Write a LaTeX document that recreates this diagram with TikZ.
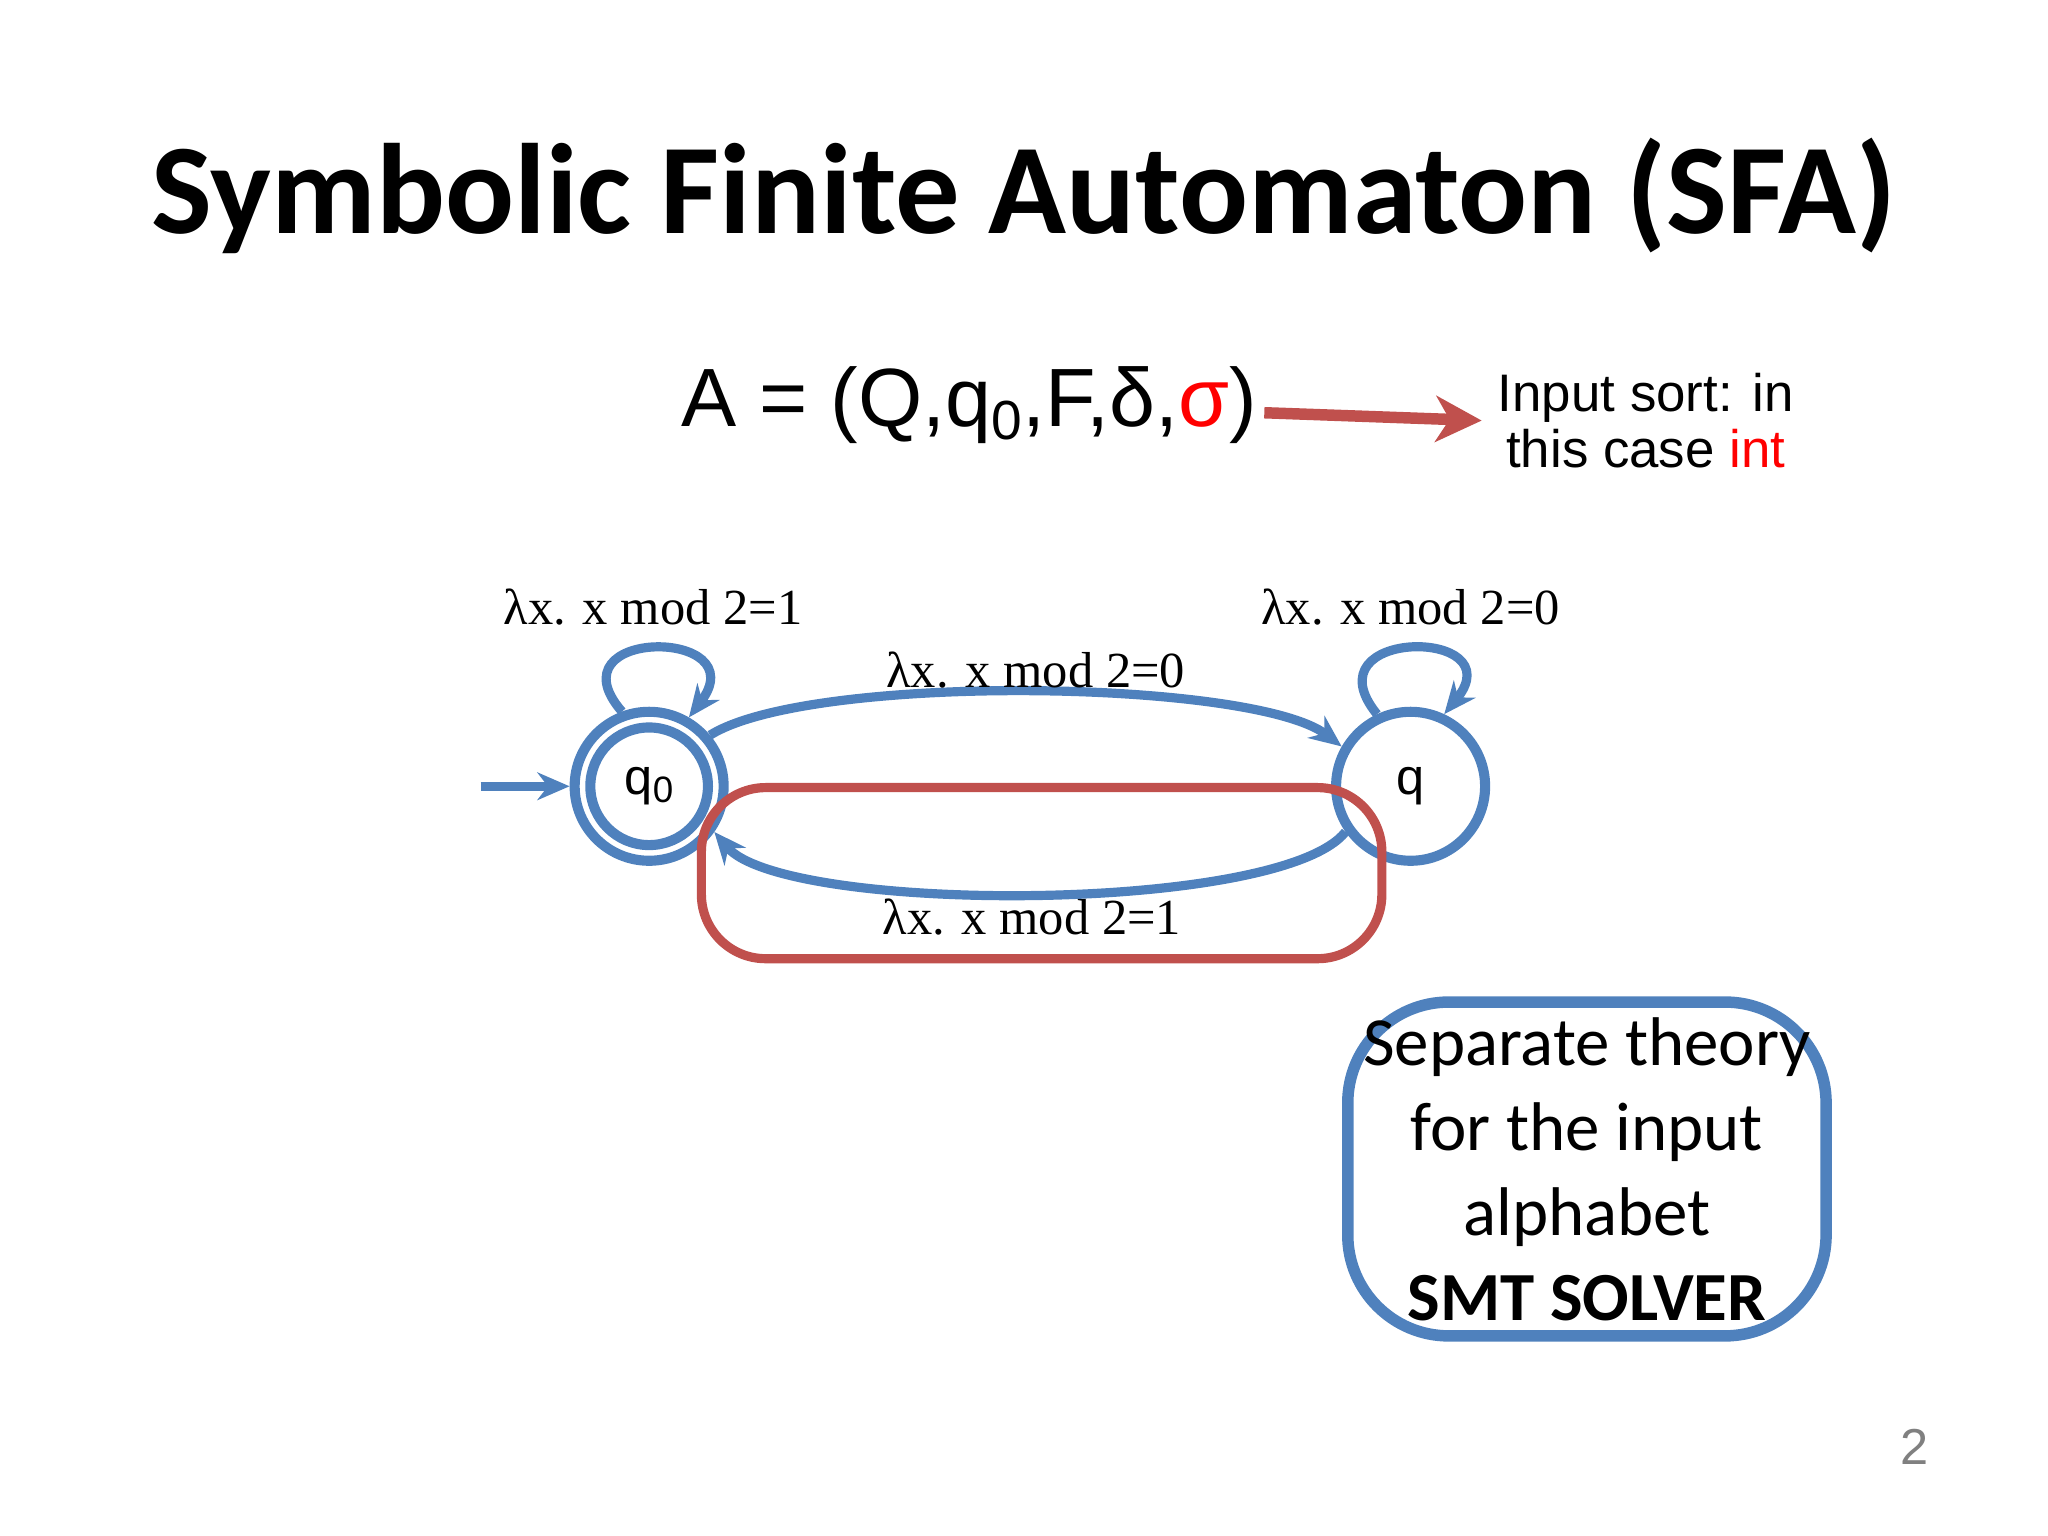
\documentclass[tikz,border=0pt]{standalone}
\usepackage{fontspec}
\setmainfont{Liberation Sans}
\newfontfamily\carlfont{Carlito}
\newfontfamily\tms{Liberation Serif}
\usetikzlibrary{arrows.meta}
\definecolor{sblue}{RGB}{79,129,189}
\definecolor{sred}{RGB}{192,80,77}
\begin{document}
\begin{tikzpicture}[x=0.01cm,y=-0.01cm,
  st/.style={circle,draw=sblue,line width=2.2pt,minimum size=1.14cm,inner sep=0pt,font=\fontsize{11}{13}\selectfont},
  ed/.style={draw=sblue,line width=2pt,-{Stealth[length=7pt,width=6pt]}},
  lab/.style={font=\tms\fontsize{11}{13}\selectfont}]
\useasboundingbox (0,0) rectangle (1568,1176);
\node (title) at (784,150) {\carlfont\bfseries\fontsize{28}{32}\selectfont Symbolic Finite Automaton (SFA)};
\node[anchor=east] (form) at (975,310) {\fontsize{18}{22}\selectfont A = (Q,q\raisebox{-0.3ex}{\fontsize{12}{14}\selectfont 0},F,δ,\textcolor{red}{σ})};
\node[align=center] (inp) at (1260,322) {\fontsize{11.5}{14}\selectfont Input sort: in\\\fontsize{11.5}{14}\selectfont this case \textcolor{red}{int}};
\coordinate (as) at (968,316);
\draw[sred,line width=2.5pt,-{Stealth[length=10pt,width=10pt,inset=3pt]}] (as) -- (inp.west);
\node[st,minimum size=0.9cm] (q0) at (497,602) {q\raisebox{-0.3ex}{\fontsize{8}{9}\selectfont 0}};
\node[circle,draw=sblue,line width=2.2pt,minimum size=1.14cm] (q0o) at (497,602) {};
\node[st] (q) at (1080,602) {q};
\coordinate (init) at (368,602);
\draw[ed] (init) -- (q0o.west);
\draw[ed] (q0o.110) .. controls (420,480) and (580,480) .. (q0o.60);
\draw[ed] (q.115) .. controls (1000,480) and (1160,480) .. (q.65);
\draw[ed] (q0o.40) .. controls (620,515) and (960,520) .. (q.150);
\draw[ed] (q.215) .. controls (980,700) and (600,700) .. (q0o.-35);
\node[lab] (l1) at (500,465) {λx. x mod 2=1};
\node[lab] (l2) at (1080,465) {λx. x mod 2=0};
\node[lab] (l3) at (793,513) {λx. x mod 2=0};
\node[lab] (l4) at (790,702) {λx. x mod 2=1};
\draw[sred,line width=2pt,rounded corners=14pt] (537,603) rectangle (1058,734);
\node[draw=sblue,line width=2.5pt,rounded corners=22pt,minimum width=3.66cm,minimum height=2.22cm,align=center,font=\carlfont\fontsize{15}{18.5}\selectfont] (smt) at (1215,895) {Separate theory\\for the input\\alphabet\\\textbf{SMT SOLVER}};
\node[text=gray] (pg) at (1466,1108) {\fontsize{11}{13}\selectfont 2};
\end{tikzpicture}
\end{document}
